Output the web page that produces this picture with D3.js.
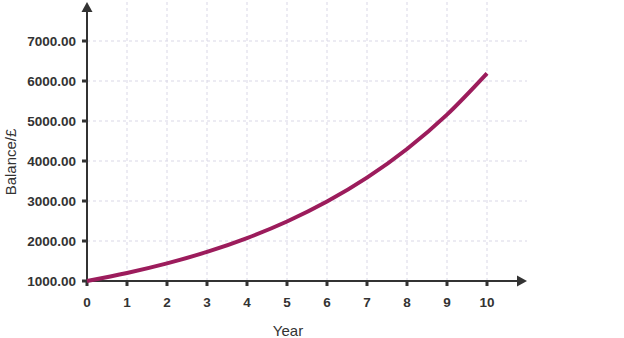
<!DOCTYPE html>
<html><head><meta charset="utf-8">
<script src="https://cdn.jsdelivr.net/npm/d3@7"></script>
<style>body{margin:0;background:#fff}svg{display:block}text{font-family:"Liberation Sans",Arial,sans-serif;fill:#333}</style>
</head><body>
<script>
const years = [0,1,2,3,4,5,6,7,8,9,10];
const balance = [1000,1200,1440,1728,2073.6,2488.32,2985.98,3583.18,4299.82,5159.78,6191.74];
const xTicks = [0,1,2,3,4,5,6,7,8,9,10];
const yTicks = [1000,2000,3000,4000,5000,6000,7000];
const xTitle = "Year", yTitle = "Balance/£";

const W=624,H=338;
const svg=d3.select("body").append("svg").attr("width",W).attr("height",H);
const x=d3.scaleLinear().domain([0,10]).range([87,487]);
const y=d3.scaleLinear().domain([1000,7000]).range([281,41]);
const xEnd=x(11), yTop=y(7000)-39;
const grid="#d9d7e6";
svg.append("g").selectAll("line").data(xTicks.slice(1)).join("line")
 .attr("x1",d=>x(d)).attr("x2",d=>x(d)).attr("y1",yTop).attr("y2",y(1000))
 .attr("stroke",grid).attr("stroke-dasharray","3,3");
svg.append("g").selectAll("line").data(yTicks.slice(1)).join("line")
 .attr("x1",x(0)).attr("x2",xEnd).attr("y1",d=>y(d)).attr("y2",d=>y(d))
 .attr("stroke",grid).attr("stroke-dasharray","3,3");
const ax="#333";
svg.append("line").attr("x1",x(0)).attr("x2",xEnd-8).attr("y1",y(1000)).attr("y2",y(1000)).attr("stroke",ax).attr("stroke-width",2);
svg.append("path").attr("d",`M${xEnd},${y(1000)} L${xEnd-10},${y(1000)-5.5} L${xEnd-10},${y(1000)+5.5}Z`).attr("fill",ax);
svg.append("line").attr("x1",x(0)).attr("x2",x(0)).attr("y1",y(1000)+1).attr("y2",yTop+8).attr("stroke",ax).attr("stroke-width",2);
svg.append("path").attr("d",`M${x(0)},${yTop} L${x(0)-5.5},${yTop+10} L${x(0)+5.5},${yTop+10}Z`).attr("fill",ax);
svg.append("g").selectAll("rect").data(xTicks).join("rect")
 .attr("x",d=>x(d)-1.5).attr("y",y(1000)).attr("width",3).attr("height",5).attr("fill",ax);
svg.append("g").selectAll("rect").data(yTicks).join("rect")
 .attr("x",x(0)-5).attr("y",d=>y(d)-1.5).attr("width",5).attr("height",3).attr("fill",ax);
svg.append("g").selectAll("text").data(xTicks).join("text")
 .attr("x",d=>x(d)).attr("y",307).attr("text-anchor","middle").attr("font-size",13.5).attr("font-weight","bold").text(d=>d);
svg.append("g").selectAll("text").data(yTicks).join("text")
 .attr("x",76).attr("y",d=>y(d)+5).attr("text-anchor","end").attr("font-size",13.5).attr("font-weight","bold").text(d=>d3.format(".2f")(d));
svg.append("text").attr("x",288).attr("y",336).attr("text-anchor","middle").attr("font-size",15).text(xTitle);
svg.append("text").attr("transform","translate(16,162) rotate(-90)").attr("text-anchor","middle").attr("font-size",15).text(yTitle);
const line=d3.line().x((d,i)=>x(years[i])).y(d=>y(d)).curve(d3.curveMonotoneX);
svg.append("path").datum(balance).attr("d",line).attr("fill","none").attr("stroke","#9c1c5c").attr("stroke-width",4);
</script>
</body></html>
